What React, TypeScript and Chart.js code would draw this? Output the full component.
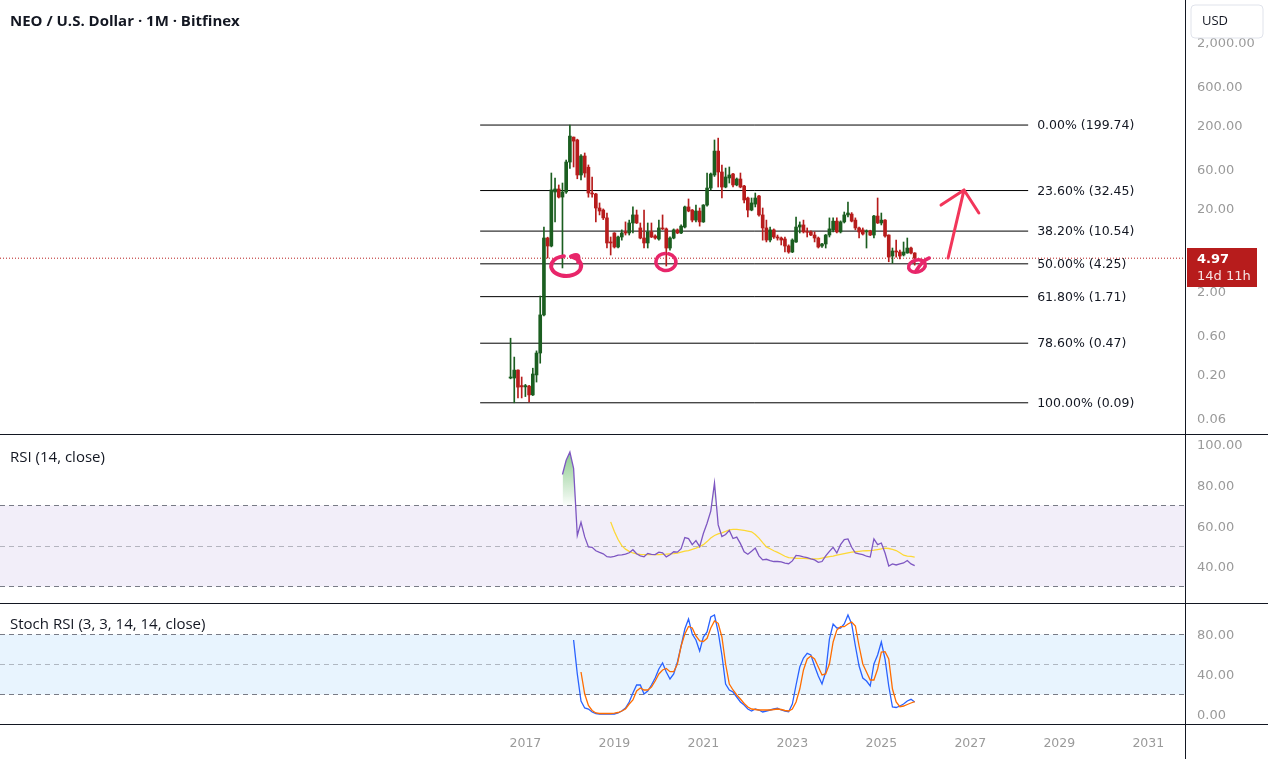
import React, { useEffect, useRef } from 'react';
import { Chart, registerables } from 'chart.js';

Chart.register(...registerables);
Chart.defaults.font.family = "'DejaVu Sans', sans-serif";

// ---------------- data (monthly candles, index 0 = Sep 2016) ----------------
const FIRST_YEAR = 2016;
const FIRST_MONTH = 9;

const OPEN = [
  0.179, 0.179, 0.223, 0.145, 0.14, 0.143, 0.112, 0.195, 0.358, 1.03,
  8.7, 6.97, 31.2, 33.9, 27.1, 31.2, 71.6, 143, 132, 50,
  84.6, 62, 30.3, 29.5, 20, 18.9, 15.2, 7.8, 10, 6.78,
  8.95, 10.3, 10, 13.2, 16.5, 11.5, 8.7, 7.58, 10.3, 9.2,
  8.46, 11.5, 11.2, 6.59, 8.7, 10.9, 10, 11.8, 20.6, 18.9,
  14.3, 18.4, 13.6, 21.7, 34.8, 50, 97, 54.3, 35.8, 46,
  51.4, 37.9, 44.7, 36.8, 26.4, 18.9, 22.3, 27.9, 16.5, 11.5,
  8.23, 10.9, 8.95, 8.7, 8.46, 6.97, 5.9, 7.79, 11.8, 12.5,
  10.4, 10.3, 9.45, 8.7, 6.97, 7.37, 9.45, 10.9, 13.9, 10.3,
  13.6, 16.5, 16.9, 14.3, 11.5, 10.9, 10.3, 10.6, 9.45, 16,
  13.2, 14.3, 9.45, 5.28, 6.07, 5.9, 5.43, 5.74, 6.59, 5.74,
];
const HIGH = [
  0.54, 0.32, 0.225, 0.184, 0.15, 0.146, 0.235, 0.38, 1.74, 11.8,
  8.9, 52.8, 46, 37.9, 40, 75.7, 199.74, 143.5, 135, 88,
  92, 66, 47, 30, 23, 19.5, 17.4, 8.95, 10.1, 9.2,
  10.9, 13.6, 14.3, 20.6, 18.9, 13.2, 18.9, 13.2, 13.2, 9.5,
  14.3, 16.5, 11.5, 9, 11.2, 11.2, 12.5, 21.1, 25.7, 19.2,
  21.7, 20, 22, 52.8, 52.8, 132, 139, 66, 60.6, 62.4,
  52.5, 46, 52.8, 37.5, 27, 26.4, 30.3, 28.5, 20, 14.3,
  11.8, 11.2, 9.45, 8.95, 8.95, 7.2, 8.5, 15.6, 13.6, 14.3,
  11.5, 10.6, 10.3, 8.95, 7.5, 9.6, 15.2, 15.2, 15.2, 14,
  17.9, 23.6, 17.6, 15.2, 11.8, 11.5, 10.9, 10.8, 16.3, 26.4,
  17.4, 14.5, 9.5, 6.59, 8.23, 6.24, 7.79, 8.7, 6.78, 5.8,
];
const LOW = [
  0.175, 0.09, 0.103, 0.103, 0.107, 0.092, 0.11, 0.16, 0.27, 1.0,
  5.0, 6.8, 13.6, 26.4, 3.79, 30, 60, 62.4, 45, 43.5,
  47, 27, 27, 13.6, 16.5, 14.5, 6.59, 5.43, 6.59, 6.6,
  8.2, 9.45, 9.45, 10, 13, 8.5, 6.59, 6.59, 8.8, 8.4,
  8.2, 11, 4.0, 6.2, 8.5, 9.8, 9.8, 11.5, 18, 13.6,
  13.6, 12.1, 13.4, 21, 33, 48, 35.8, 26.4, 35, 40,
  35.8, 37, 35, 23, 15.6, 18.5, 20.6, 16, 8.2, 7.8,
  7.8, 8.6, 8.2, 7.17, 5.9, 5.7, 5.8, 7.7, 10, 10,
  8.95, 9.3, 7.8, 6.59, 6.7, 6.59, 8.95, 10.3, 10, 10,
  13.2, 15.6, 13.6, 10.9, 8.7, 9.45, 6.59, 9.3, 8.7, 13,
  12.5, 8.9, 4.5, 4.3, 5.13, 4.86, 5.28, 5.7, 5.6, 4.1,
];
const CLOSE = [
  0.184, 0.223, 0.139, 0.14, 0.145, 0.112, 0.2, 0.358, 1.03, 8.7,
  6.97, 33, 33.9, 27.1, 31.2, 71.6, 147, 128, 50, 84.6,
  52.8, 30.3, 29.5, 20, 18.4, 15.2, 7.58, 7.58, 6.78, 8.95,
  10, 10, 13.2, 16.5, 13.2, 8.7, 7.58, 10.3, 8.95, 8.7,
  11.5, 11.2, 6.59, 8.7, 10.9, 10, 12.1, 20.6, 18.4, 14.3,
  18.4, 13.6, 21.7, 34.8, 51.4, 97, 54.3, 35.8, 47.3, 50,
  37.9, 44.7, 35.8, 25, 18.9, 23, 26.4, 16.5, 11.5, 8.23,
  10.9, 8.95, 8.7, 8.23, 6.97, 5.9, 8.23, 11.8, 12.5, 10.3,
  10.2, 9.45, 8.7, 6.78, 7.37, 9.45, 11.2, 13.9, 10.3, 13.6,
  16.5, 17.4, 13.9, 11.5, 10.3, 9.72, 10.6, 9.45, 16, 13.2,
  14.3, 9.2, 5.13, 6.07, 5.9, 5.28, 5.9, 6.59, 5.74, 4.97,
];

// RSI (14, close), first value at index 14
const RSI_START = 14;
const RSI_VALUES = [
  85, 92, 96, 88, 55, 61.5, 54.3, 49.4, 49.2, 47.5,
  46.7, 46, 44.6, 44.4, 44.7, 45.3, 45.5, 45.8, 46.5, 48,
  46, 45, 44.5, 46.2, 45.7, 45.6, 46.8, 46.5, 44.5, 45.5,
  47, 46.8, 48.5, 54, 53.5, 50.5, 52.5, 49.5, 56, 61,
  67, 80.8, 60.2, 54.5, 55.5, 57.5, 53.5, 54.2, 51, 47,
  45.8, 47.2, 48.8, 45, 43, 43.3, 42.6, 42.2, 42.2, 42,
  41.4, 41.1, 42.5, 45.2, 45, 44.5, 44.1, 43.5, 43, 41.8,
  42.2, 45, 47.2, 49.2, 46.4, 50.5, 53, 53.3, 49.2, 46.4,
  46, 45.6, 44.8, 44.4, 53.3, 50.5, 51.3, 46.4, 40, 41,
  40.5, 41, 41.5, 42.7, 41, 40.2,
];
// RSI moving average, first value at index 27
const RSI_MA_START = 27;
const RSI_MA_VALUES = [
  61.7, 57, 53, 50, 48.3, 47.2, 46.4, 46, 45.7, 45.6,
  45.6, 45.6, 45.6, 45.6, 45.7, 45.8, 46, 46.1, 46.3, 46.8,
  47.3, 47.6, 48.2, 48.8, 49.5, 50.5, 52, 53.8, 55, 55.8,
  56.3, 57, 57.8, 58, 58, 57.8, 57.5, 57.2, 56.8, 55.5,
  53.7, 51.5, 49.4, 48.5, 47.5, 46.7, 45.8, 44.8, 44.1, 44,
  43.8, 43.7, 43.7, 43.6, 43.5, 43.5, 43.5, 43.9, 44.3, 44.6,
  44.9, 45.3, 45.7, 46.1, 46.5, 46.8, 47, 47.2, 47.4, 47.5,
  47.6, 47.8, 48.1, 48.4, 48.8, 48.6, 48.2, 47.6, 46.5, 45.3,
  44.9, 44.7, 44.4,
];
// Stoch RSI %K (first at index 17) and %D (first at index 19)
const K_START = 17;
const K_VALUES = [
  74, 40, 13, 6, 5, 2, 0.5, 0, 0, 0,
  0, 0, 1, 3, 6, 12, 21, 29, 29, 20,
  23, 29, 36, 45, 51, 42, 35, 40, 52, 68,
  85, 95, 80, 74, 63, 77, 82, 97, 99, 82,
  59, 30, 24, 22, 17, 12, 9, 5, 3, 5,
  4, 2, 3, 4, 5, 5.7, 4, 3, 2.3, 10,
  29, 47, 56, 60.7, 59, 48, 38, 30, 42, 75,
  90, 86, 86, 90, 99, 90, 68, 48, 36, 33,
  28, 50, 59, 72, 55, 28, 7, 6.5, 8, 10,
  13, 14.7, 12,
];
const D_START = 19;
const D_VALUES = [
  42, 20, 8.5, 3.5, 1, 0.5, 0.5, 0.5, 0.5, 0.8,
  1.5, 3, 5, 10, 14, 23, 26, 24, 24, 27,
  33, 40, 44, 45.5, 42.3, 42.3, 50, 68, 80, 87.5,
  86, 78, 73, 72.5, 75.7, 86, 93, 90.7, 77, 50,
  30, 24, 19, 15, 10.5, 7, 5, 4.5, 4, 4,
  4, 4, 4.5, 5, 4.5, 3.5, 3, 5, 12, 25,
  44, 55, 58, 55, 47, 39, 40, 50, 72, 84,
  87.3, 87.3, 90, 92, 88, 68, 50, 42, 34, 34,
  45, 62, 62.3, 55, 25, 12, 7.3, 8, 9.5, 11,
  12.3,
];

const FIB_RATIOS = [0, 0.236, 0.382, 0.5, 0.618, 0.786, 1];
const FIB_LEVELS = [199.74, 32.45, 10.54, 4.25, 1.71, 0.47, 0.09];
const FIB_START_INDEX = -8.2;
const FIB_END_INDEX = 139.6;

const LAST_PRICE = 4.97;
const COUNTDOWN = '14d 11h';

const PRICE_TICKS = [2000, 600, 200, 60, 20, 6, 2, 0.6, 0.2, 0.06];
const RSI_TICKS = [40, 60, 80, 100];
const STOCH_TICKS = [0, 40, 80];
const YEAR_LABELS = ['2017', '2019', '2021', '2023', '2025', '2027', '2029', '2031'];

// hand-drawn marks, anchored in (candle index, price)
const LOOP_MARKS = [
  { i: 15.0, p: 4.0, rx: 15, ry: 10 },
  { i: 41.9, p: 4.47, rx: 10, ry: 8.5 },
  { i: 109.6, p: 4.0, rx: 8.5, ry: 6 },
];
const ARROW_BASE = [118.0, 5.0];
const ARROW_TIP = [122.3, 33.0];
const ARROW_LEFT = [116.1, 21.7];
const ARROW_RIGHT = [126.3, 17.4];

// ---------------- layout / styles ----------------
const W = 1268;
const H = 759;
const AXIS_W = 83;
const MAIN_H = 434;
const RSI_TOP = 434;
const RSI_H = 169;
const ST_TOP = 603;
const ST_H = 156;
const VIEW_MIN = -137.7;
const VIEW_MAX = 181.9;
const PRICE_MIN = 0.03787;
const PRICE_MAX = 6412;
const RSI_MIN = 21.8;
const RSI_MAX = 104.92;
const ST_MIN = -10;
const ST_MAX = 111;

const UP = '#1b5e20';
const DOWN = '#b71c1c';
const FRAME = '#131722';
const AXIS_TEXT = '#9a9a9a';
const TEXT = '#131722';

const yearIndex = (y: number) => (y - FIRST_YEAR) * 12 + (1 - FIRST_MONTH);
const YEAR_TICK_INDEX = YEAR_LABELS.map((y) => yearIndex(Number(y)));

const series = (start: number, vals: number[]) =>
  vals.map((v, k) => ({ x: start + k, y: v }));

const fmtPrice = (v: number) =>
  Number(v).toLocaleString('en-US', { minimumFractionDigits: 2, maximumFractionDigits: 2 });

const hiddenX = () => ({
  type: 'linear',
  min: VIEW_MIN,
  max: VIEW_MAX,
  offset: false,
  display: false,
  grid: { display: false },
});

const rightAxis = (extra: any) => ({
  position: 'right',
  bounds: 'data',
  grid: { display: false, drawTicks: false },
  border: { display: false },
  afterFit: (s: any) => {
    s.width = AXIS_W;
    s.paddingTop = 0;
    s.paddingBottom = 0;
  },
  ...extra,
});

const axisTicks = (callback: any) => ({
  autoSkip: false,
  padding: 12,
  labelOffset: 2,
  color: AXIS_TEXT,
  font: { size: 13 },
  callback,
});

const framePlugin = (top: boolean, bottom: boolean) => ({
  id: 'frame',
  afterDraw(chart: any) {
    const { ctx, chartArea: a, width, height } = chart;
    ctx.save();
    ctx.strokeStyle = FRAME;
    ctx.lineWidth = 1;
    ctx.setLineDash([]);
    ctx.beginPath();
    ctx.moveTo(a.right + 0.5, 0);
    ctx.lineTo(a.right + 0.5, height);
    if (top) {
      ctx.moveTo(0, 0.5);
      ctx.lineTo(width, 0.5);
    }
    if (bottom) {
      ctx.moveTo(0, a.bottom + 0.5);
      ctx.lineTo(width, a.bottom + 0.5);
    }
    ctx.stroke();
    ctx.restore();
  },
});

const bandPlugin = (hi: number, mid: number, lo: number, fill: string) => ({
  id: 'band',
  beforeDatasetsDraw(chart: any) {
    const { ctx, chartArea: a } = chart;
    const y = chart.scales.y;
    const yh = Math.round(y.getPixelForValue(hi)) + 0.5;
    const ym = Math.round(y.getPixelForValue(mid)) + 0.5;
    const yl = Math.round(y.getPixelForValue(lo)) + 0.5;
    ctx.save();
    ctx.fillStyle = fill;
    ctx.fillRect(a.left, yh, a.right - a.left, yl - yh);
    ctx.lineWidth = 1;
    ctx.setLineDash([5, 4]);
    const line = (yy: number) => {
      ctx.beginPath();
      ctx.moveTo(a.left, yy);
      ctx.lineTo(a.right, yy);
      ctx.stroke();
    };
    ctx.strokeStyle = '#787b86';
    line(yh);
    line(yl);
    ctx.strokeStyle = 'rgba(120,123,134,0.5)';
    line(ym);
    ctx.restore();
  },
});

const mainDecor = {
  id: 'mainDecor',
  afterDatasetsDraw(chart: any) {
    const { ctx } = chart;
    const xs = chart.scales.x;
    const ys = chart.scales.y;
    const px = (i: number) => xs.getPixelForValue(i);
    const py = (p: number) => ys.getPixelForValue(p);
    ctx.save();
    ctx.lineCap = 'round';
    ctx.lineJoin = 'round';
    // loops
    ctx.strokeStyle = '#e8266a';
    LOOP_MARKS.forEach((m, k) => {
      const cx = px(m.i);
      const cy = py(m.p);
      ctx.lineWidth = k === 0 ? 4 : 3.5;
      ctx.beginPath();
      if (k === 0) {
        ctx.ellipse(cx, cy, m.rx, m.ry, 0, -1.25, -1.25 + Math.PI * 1.85);
      } else if (k === 1) {
        ctx.ellipse(cx, cy, m.rx, m.ry, 0, -1.3, -1.3 + Math.PI * 1.88);
      } else {
        ctx.ellipse(cx, cy, m.rx, m.ry, -0.25, 0, Math.PI * 2);
      }
      ctx.stroke();
      if (k === 0) {
        ctx.beginPath();
        ctx.moveTo(cx + 6, cy - 10);
        ctx.quadraticCurveTo(cx + 14, cy - 14, cx + 12, cy - 4);
        ctx.stroke();
      }
      if (k === 2) {
        ctx.beginPath();
        ctx.moveTo(cx - 1, cy + 5);
        ctx.quadraticCurveTo(cx + 6, cy - 6, px(112.9), py(5.0));
        ctx.stroke();
      }
    });
    // arrow
    ctx.strokeStyle = '#f2365a';
    ctx.lineWidth = 3;
    ctx.beginPath();
    ctx.moveTo(px(ARROW_BASE[0]), py(ARROW_BASE[1]));
    ctx.lineTo(px(ARROW_TIP[0]), py(ARROW_TIP[1]));
    ctx.moveTo(px(ARROW_LEFT[0]), py(ARROW_LEFT[1]));
    ctx.lineTo(px(ARROW_TIP[0]), py(ARROW_TIP[1]));
    ctx.lineTo(px(ARROW_RIGHT[0]), py(ARROW_RIGHT[1]));
    ctx.stroke();
    ctx.restore();
  },
  afterDraw(chart: any) {
    const { ctx, chartArea: a } = chart;
    const xs = chart.scales.x;
    const ys = chart.scales.y;
    ctx.save();
    // fib labels
    ctx.font = "12.5px 'DejaVu Sans'";
    ctx.fillStyle = TEXT;
    ctx.textBaseline = 'middle';
    ctx.textAlign = 'left';
    const lx = xs.getPixelForValue(FIB_END_INDEX) + 9;
    FIB_LEVELS.forEach((lv, k) => {
      const txt = `${(FIB_RATIOS[k] * 100).toFixed(2)}% (${lv.toFixed(2)})`;
      ctx.fillText(txt, lx, ys.getPixelForValue(lv) + 1);
    });
    // last price label
    const yp = Math.round(ys.getPixelForValue(LAST_PRICE));
    ctx.fillStyle = '#b71c1c';
    ctx.fillRect(a.right + 2, yp - 10, 70, 39);
    ctx.fillStyle = '#ffffff';
    ctx.font = "bold 13px 'DejaVu Sans'";
    ctx.fillText(LAST_PRICE.toFixed(2), a.right + 12, yp + 2);
    ctx.fillStyle = 'rgba(255,255,255,0.88)';
    ctx.font = "13px 'DejaVu Sans'";
    ctx.fillText(COUNTDOWN, a.right + 12, yp + 19);
    // currency box
    const bx = a.right + 6, by = 5, bw = 72, bh = 33, r = 4;
    ctx.beginPath();
    ctx.moveTo(bx + r, by);
    ctx.lineTo(bx + bw - r, by);
    ctx.arcTo(bx + bw, by, bx + bw, by + r, r);
    ctx.lineTo(bx + bw, by + bh - r);
    ctx.arcTo(bx + bw, by + bh, bx + bw - r, by + bh, r);
    ctx.lineTo(bx + r, by + bh);
    ctx.arcTo(bx, by + bh, bx, by + bh - r, r);
    ctx.lineTo(bx, by + r);
    ctx.arcTo(bx, by, bx + r, by, r);
    ctx.closePath();
    ctx.fillStyle = '#ffffff';
    ctx.fill();
    ctx.strokeStyle = '#e0e3eb';
    ctx.lineWidth = 1;
    ctx.stroke();
    ctx.fillStyle = TEXT;
    ctx.font = "13px 'Open Sans'";
    ctx.fillText('USD', bx + 11, by + 16);
    ctx.restore();
  },
};

function mainConfig(): any {
  const idx = CLOSE.map((_, i) => i);
  const colors = idx.map((i) => (CLOSE[i] >= OPEN[i] ? UP : DOWN));
  return {
    type: 'bar',
    data: {
      datasets: [
        {
          type: 'bar',
          data: idx.map((i) => ({ x: i, y: [LOW[i], HIGH[i]] })),
          backgroundColor: colors,
          borderWidth: 0,
          barThickness: 1,
          grouped: false,
          order: 1,
        },
        {
          type: 'bar',
          data: idx.map((i) => ({ x: i, y: [OPEN[i], CLOSE[i]] })),
          backgroundColor: colors,
          borderWidth: 0,
          barThickness: 3,
          grouped: false,
          order: 0,
        },
        ...FIB_LEVELS.map((lv) => ({
          type: 'line',
          data: [
            { x: FIB_START_INDEX, y: lv },
            { x: FIB_END_INDEX, y: lv },
          ],
          borderColor: '#000000',
          borderWidth: 1,
          pointRadius: 0,
          fill: false,
          order: 3,
        })),
        {
          type: 'line',
          data: [
            { x: VIEW_MIN, y: LAST_PRICE },
            { x: VIEW_MAX, y: LAST_PRICE },
          ],
          borderColor: '#b71c1c',
          borderWidth: 1,
          borderDash: [1, 2],
          pointRadius: 0,
          fill: false,
          order: 4,
        },
      ],
    },
    options: {
      animation: false,
      responsive: false,
      maintainAspectRatio: false,
      events: [],
      layout: { padding: 0 },
      plugins: { legend: { display: false }, tooltip: { enabled: false } },
      scales: {
        x: hiddenX(),
        y: rightAxis({
          type: 'logarithmic',
          min: PRICE_MIN,
          max: PRICE_MAX,
          afterBuildTicks: (s: any) => {
            s.ticks = PRICE_TICKS.map((v) => ({ value: v }));
          },
          ticks: axisTicks((v: any) => fmtPrice(v)),
        }),
      },
    },
    plugins: [mainDecor, framePlugin(false, false)],
  };
}

function rsiConfig(): any {
  return {
    type: 'line',
    data: {
      datasets: [
        {
          data: series(RSI_START, RSI_VALUES),
          borderColor: '#7e57c2',
          borderWidth: 1.3,
          pointRadius: 0,
          fill: { target: { value: 70 }, below: 'transparent' },
          backgroundColor: (c: any) => {
            const ch = c.chart;
            const ys = ch.scales && ch.scales.y;
            if (!ys || !ch.chartArea) return 'rgba(76,175,80,0.35)';
            const g = ch.ctx.createLinearGradient(0, ys.getPixelForValue(100), 0, ys.getPixelForValue(70));
            g.addColorStop(0, 'rgba(76,175,80,0.75)');
            g.addColorStop(1, 'rgba(76,175,80,0.03)');
            return g;
          },
          order: 0,
        },
        {
          data: series(RSI_MA_START, RSI_MA_VALUES),
          borderColor: '#fdd835',
          borderWidth: 1.3,
          pointRadius: 0,
          fill: false,
          order: 1,
        },
      ],
    },
    options: {
      animation: false,
      responsive: false,
      maintainAspectRatio: false,
      events: [],
      layout: { padding: 0 },
      plugins: { legend: { display: false }, tooltip: { enabled: false } },
      scales: {
        x: hiddenX(),
        y: rightAxis({
          type: 'linear',
          min: RSI_MIN,
          max: RSI_MAX,
          afterBuildTicks: (s: any) => {
            s.ticks = RSI_TICKS.map((v) => ({ value: v }));
          },
          ticks: axisTicks((v: any) => Number(v).toFixed(2)),
        }),
      },
    },
    plugins: [bandPlugin(70, 50, 30, 'rgba(126,87,194,0.1)'), framePlugin(true, false)],
  };
}

function stochConfig(): any {
  return {
    type: 'line',
    data: {
      datasets: [
        {
          data: series(K_START, K_VALUES),
          borderColor: '#2962ff',
          borderWidth: 1.3,
          pointRadius: 0,
          fill: false,
          order: 1,
        },
        {
          data: series(D_START, D_VALUES),
          borderColor: '#ff6d00',
          borderWidth: 1.3,
          pointRadius: 0,
          fill: false,
          order: 0,
        },
      ],
    },
    options: {
      animation: false,
      responsive: false,
      maintainAspectRatio: false,
      events: [],
      layout: { padding: 0 },
      plugins: { legend: { display: false }, tooltip: { enabled: false } },
      scales: {
        x: {
          type: 'linear',
          min: VIEW_MIN,
          max: VIEW_MAX,
          offset: false,
          bounds: 'data',
          grid: { display: false, drawTicks: false },
          border: { display: false },
          afterBuildTicks: (s: any) => {
            s.ticks = YEAR_TICK_INDEX.map((v) => ({ value: v }));
          },
          afterFit: (s: any) => {
            s.height = ST_H - 121;
            s.paddingLeft = 0;
            s.paddingRight = 0;
          },
          ticks: {
            autoSkip: false,
            maxRotation: 0,
            padding: 12,
            color: AXIS_TEXT,
            font: { size: 12.5 },
            callback: (_v: any, i: number) => YEAR_LABELS[i],
          },
        },
        y: rightAxis({
          type: 'linear',
          min: ST_MIN,
          max: ST_MAX,
          afterBuildTicks: (s: any) => {
            s.ticks = STOCH_TICKS.map((v) => ({ value: v }));
          },
          ticks: axisTicks((v: any) => Number(v).toFixed(2)),
        }),
      },
    },
    plugins: [bandPlugin(80, 50, 20, 'rgba(33,150,243,0.1)'), framePlugin(true, true)],
  };
}

const labelStyle: any = {
  position: 'absolute',
  left: 10,
  fontFamily: "'Open Sans', sans-serif",
  fontSize: 15,
  lineHeight: '20px',
  color: TEXT,
  whiteSpace: 'nowrap',
};

export default function App() {
  const mainRef = useRef<HTMLCanvasElement>(null);
  const rsiRef = useRef<HTMLCanvasElement>(null);
  const stRef = useRef<HTMLCanvasElement>(null);

  useEffect(() => {
    const charts = [
      new Chart(mainRef.current as HTMLCanvasElement, mainConfig()),
      new Chart(rsiRef.current as HTMLCanvasElement, rsiConfig()),
      new Chart(stRef.current as HTMLCanvasElement, stochConfig()),
    ];
    return () => charts.forEach((c) => c.destroy());
  }, []);

  return (
    <div style={{ position: 'absolute', left: 0, top: 0, width: W, height: H, overflow: 'hidden', background: '#ffffff' }}>
      <canvas ref={mainRef} width={W} height={MAIN_H} style={{ position: 'absolute', left: 0, top: 0 }} />
      <canvas ref={rsiRef} width={W} height={RSI_H} style={{ position: 'absolute', left: 0, top: RSI_TOP }} />
      <canvas ref={stRef} width={W} height={ST_H} style={{ position: 'absolute', left: 0, top: ST_TOP }} />
      <div style={{ ...labelStyle, top: 10, fontWeight: 700 }}>NEO / U.S. Dollar · 1M · Bitfinex</div>
      <div style={{ ...labelStyle, top: 446 }}>RSI (14, close)</div>
      <div style={{ ...labelStyle, top: 613 }}>Stoch RSI (3, 3, 14, 14, close)</div>
    </div>
  );
}
